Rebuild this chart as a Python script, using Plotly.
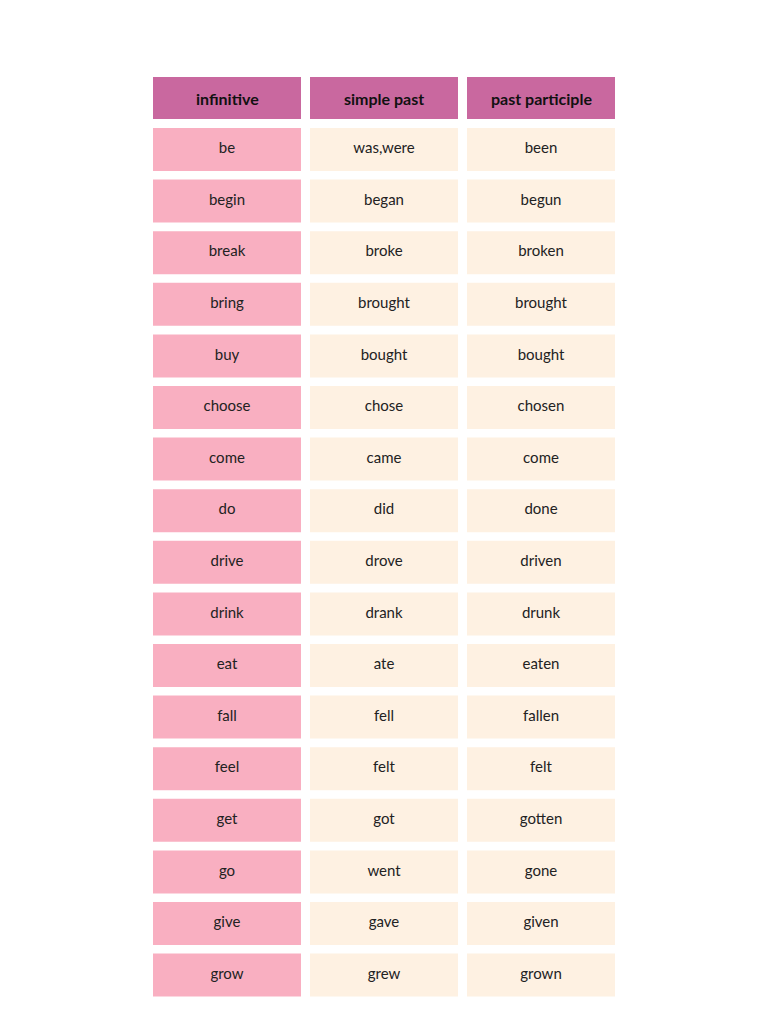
import plotly.graph_objects as go

headers = ["infinitive", "simple past", "past participle"]
infinitive = ["be", "begin", "break", "bring", "buy", "choose", "come", "do", "drive",
              "drink", "eat", "fall", "feel", "get", "go", "give", "grow"]
simple_past = ["was,were", "began", "broke", "brought", "bought", "chose", "came", "did",
               "drove", "drank", "ate", "fell", "felt", "got", "went", "gave", "grew"]
past_participle = ["been", "begun", "broken", "brought", "bought", "chosen", "come", "done",
                   "driven", "drunk", "eaten", "fallen", "felt", "gotten", "gone", "given", "grown"]

# layout in pixel units (axes map 1:1 to the page; the page has an 8px body margin)
col_left = [153, 310, 467]
col_w = 148
header_top, header_h = 77, 42
row_top, row_pitch, row_h = 128, 51.6, 43

header_color = "#c9689f"
cell_colors = ["#f9afc1", "#fef1e2", "#fef1e2"]

fig = go.Figure()
shapes = []
xs, ys, texts = [], [], []

for c, h in enumerate(headers):
    x0 = col_left[c]
    shapes.append(dict(type="rect", x0=x0, x1=x0 + col_w, y0=header_top, y1=header_top + header_h,
                       fillcolor=header_color, line=dict(width=0), layer="below"))
    fig.add_annotation(x=x0 + col_w / 2, y=header_top + header_h / 2, text="<b>" + h + "</b>",
                       showarrow=False, font=dict(family="Lato", size=16, color="#111111"))

columns = [infinitive, simple_past, past_participle]
for c, col in enumerate(columns):
    x0 = col_left[c]
    for r, word in enumerate(col):
        y0 = row_top + r * row_pitch
        shapes.append(dict(type="rect", x0=x0, x1=x0 + col_w, y0=y0, y1=y0 + row_h,
                           fillcolor=cell_colors[c], line=dict(width=0), layer="below"))
        xs.append(x0 + col_w / 2)
        ys.append(y0 + row_h / 2)
        texts.append(word)

fig.add_trace(go.Scatter(x=xs, y=ys, text=texts, mode="text", hoverinfo="skip",
                         textfont=dict(family="Lato", size=15, color="#222222")))

fig.add_annotation(x=-6, y=42, xanchor="left", yanchor="middle", showarrow=False,
                   text="<b>LIST #1.  IRREGULAR VERBS</b>",
                   font=dict(family="Lato", size=44, color="#000000"))

fig.update_layout(
    width=768, height=1024, margin=dict(l=0, r=0, t=0, b=0),
    plot_bgcolor="white", paper_bgcolor="white", showlegend=False, shapes=shapes,
    xaxis=dict(range=[8, 776], visible=False, fixedrange=True),
    yaxis=dict(range=[1032, 8], visible=False, fixedrange=True),
)

fig.write_html("out.html")
